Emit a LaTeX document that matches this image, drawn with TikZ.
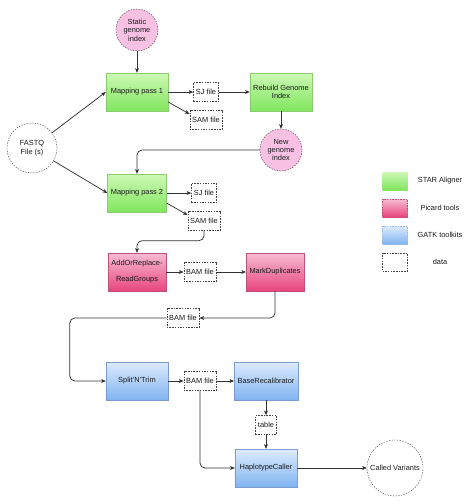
\documentclass[tikz,border=0pt]{standalone}
\usepackage{fontspec}
\setmainfont{Liberation Sans}
\usetikzlibrary{arrows.meta}
\definecolor{starTop}{HTML}{CDF8B6}
\definecolor{starBot}{HTML}{80E65E}
\definecolor{starLine}{HTML}{8CCB70}
\definecolor{picTop}{HTML}{F6BCD3}
\definecolor{picBot}{HTML}{E8457D}
\definecolor{picLine}{HTML}{C0507A}
\definecolor{gatkTop}{HTML}{DDEBFD}
\definecolor{gatkBot}{HTML}{80B4F0}
\definecolor{gatkLine}{HTML}{7A9CD0}
\definecolor{idxFill}{HTML}{F8C0E2}
\definecolor{lineGray}{HTML}{333333}
\begin{document}
\begin{tikzpicture}[node distance={60pt},
    font=\fontsize{7.4}{8.4}\selectfont, text=black!90,
    star/.style={draw=starLine, top color=starTop, bottom color=starBot, minimum width=62pt, minimum height=38pt, align=center},
    picard/.style={draw=picLine, top color=picTop, bottom color=picBot, minimum width=56pt, minimum height=38pt, align=center},
    gatk/.style={draw=gatkLine, top color=gatkTop, bottom color=gatkBot, minimum width=62pt, minimum height=38pt, align=center},
    data/.style={draw=black!75, dash pattern=on 1.5pt off 1.2pt, minimum height=19pt, inner xsep=2.5pt},
    disc/.style={circle, draw=black!75, dash pattern=on 1.5pt off 1.2pt, align=center, inner sep=0pt, minimum size=42pt},
    key/.style={minimum width=25pt, minimum height=18pt},
    link/.style={draw=lineGray, line width=0.75pt, -{Stealth[length=4.5pt,width=3.8pt,inset=1pt]}, rounded corners=5pt}]
    \useasboundingbox (-137pt,-412pt) rectangle (337pt,92pt);

    \node[star] (3) {Mapping pass 1};
    \node[disc, fill=idxFill] (2) [above of=3, yshift=2pt] {Static\\genome\\index};
    \node[data] (4) [right of=3, xshift=9pt] {SJ file};
    \node[data] (5) [below of=4, yshift=32pt] {SAM file};
    \node[star] (6) [right of=4, xshift=15pt] {Rebuild Genome\\Index};
    \node[disc, fill=idxFill] (7) [below of=6, yshift=2pt] {New\\genome\\index};
    \node[disc, minimum size=50pt] (1) [left of=3, xshift=-45pt, yshift=-56pt] {FASTQ\\File (s)};

    \node[star, minimum width=56pt] (8) [below of=3, yshift=-41pt] {Mapping pass 2};
    \node[data] (9) [right of=8, xshift=7pt] {SJ file};
    \node[data] (10) [below of=9, yshift=32pt] {SAM file};

    \node[picard] (11) [below of=8, yshift=-19pt] {AddOrReplace-\\[7.5pt]ReadGroups};
    \node[data] (12) [right of=11, xshift=3pt] {BAM file};
    \node[picard] (13) [right of=12, xshift=15pt] {MarkDuplicates};
    \node[data] (14) [below of=12, xshift=-17pt, yshift=14pt] {BAM file};

    \node[gatk] (15) [below of=11, yshift=-49pt] {Split'N'Trim};
    \node[data] (16) [right of=15, xshift=3pt] {BAM file};
    \node[gatk] (17) [right of=16, xshift=6pt] {BaseRecalibrator};
    \node[data] (18) [below of=17, yshift=16pt] {table};
    \node[gatk] (19) [below of=18, yshift=17pt] {HaplotypeCaller};
    \node[disc, minimum size=56pt] (20) [right of=19, xshift=69pt] {Called Variants};

    % legend
    \node[key, top color=starTop, bottom color=starBot] (21) [right of=7, xshift=54pt, yshift=-31pt] {};
    \node[] (22) [right of=21, xshift=-15pt] {STAR Aligner};
    \node[key, top color=picTop, bottom color=picBot, draw=picLine, dash pattern=on 1.5pt off 1.2pt] (23) [below of=21, yshift=33pt] {};
    \node[] (24) [right of=23, xshift=-15pt] {Picard tools};
    \node[key, top color=gatkTop, bottom color=gatkBot, draw=gatkLine!70, dash pattern=on 1.5pt off 1.2pt] (25) [below of=23, yshift=33pt] {};
    \node[] (26) [right of=25, xshift=-15pt] {GATK toolkits};
    \node[key, draw=black!75, dash pattern=on 1.5pt off 1.2pt] (27) [below of=25, yshift=33pt] {};
    \node[] (28) [right of=27, xshift=-15pt] {data};

    \draw[link] (2) -- (3);
    \draw[link] (1) -- (3.west);
    \draw[link] (1) -- (8.west);
    \draw[link] (3) -- (4);
    \draw[link] ([yshift=-10pt]3.east) -- (5.160);
    \draw[link] (4) -- (6);
    \draw[link] (6) -- (7);
    \draw[link] (7.west) -| (8.north);
    \draw[link] (8) -- (9);
    \draw[link] ([yshift=-10pt]8.east) -- (10.160);
    \draw[link] (10.south) -- ++(0,-10pt) -| (11.north);
    \draw[link] (11) -- (12);
    \draw[link] (12) -- (13);
    \draw[link] (13.south) |- (14.east);
    \draw[link] (14.west) -| ([xshift=-36pt]15.west) -- (15.west);
    \draw[link] (15) -- (16);
    \draw[link] (16) -- (17);
    \draw[link] (17) -- (18);
    \draw[link] (18) -- (19);
    \draw[link] (16.south) |- (19.west);
    \draw[link] (19) -- (20);
\end{tikzpicture}
\end{document}
